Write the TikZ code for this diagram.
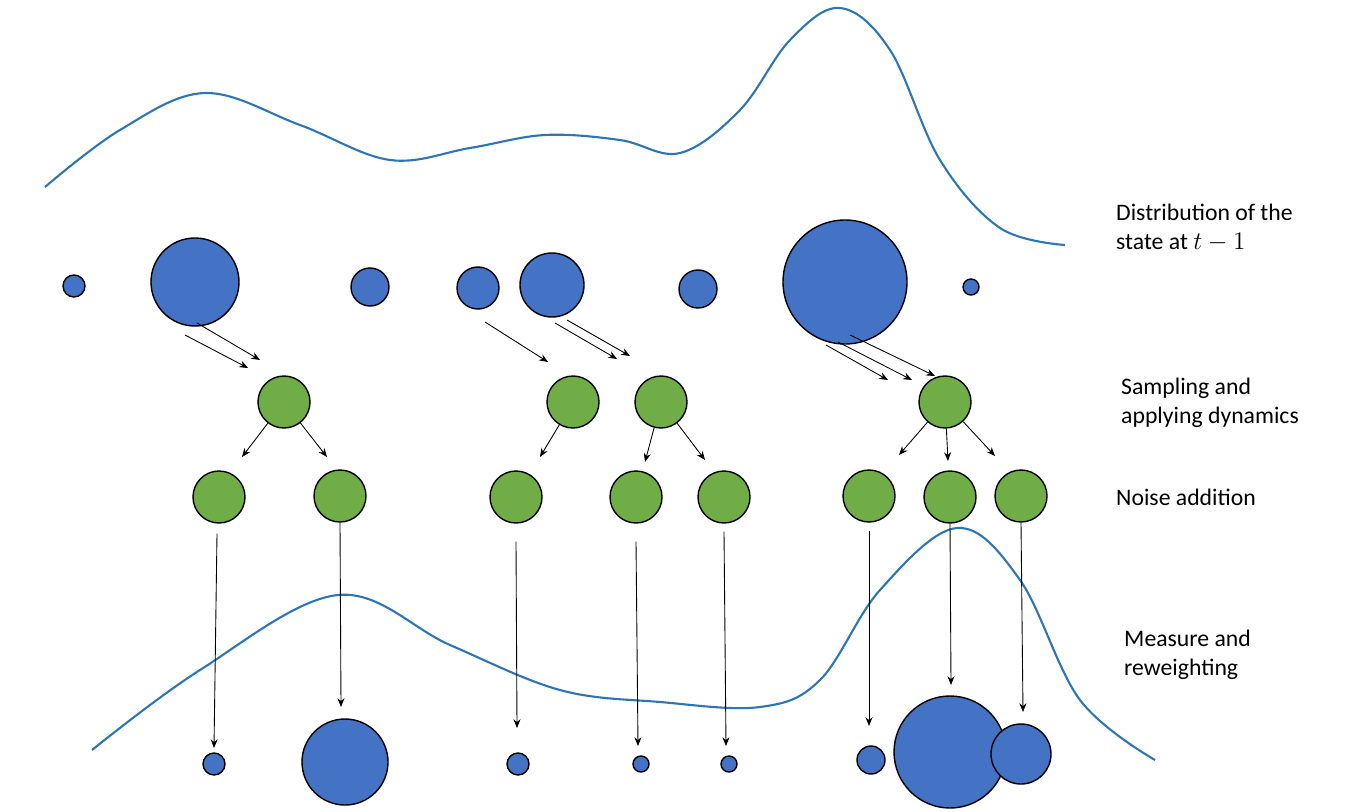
\documentclass[tikz,border=0pt]{standalone}
\usepackage{fontspec}
\setmainfont{Carlito}
\usetikzlibrary{arrows.meta}
\definecolor{pblue}{HTML}{4472C4}
\definecolor{pgreen}{HTML}{70AD47}
\definecolor{cblue}{HTML}{2E75B6}
\begin{document}
\begin{tikzpicture}[x=0.02cm,y=-0.02cm,
  bc/.style={circle,draw=black,fill=pblue,line width=0.8pt,inner sep=0pt},
  gc/.style={circle,draw=black,fill=pgreen,line width=0.8pt,inner sep=0pt,minimum size=52*0.02cm},
  ar/.style={-{Stealth[length=5pt,width=4pt]},line width=0.5pt},
  crv/.style={cblue,line width=1.2pt},
  lab/.style={anchor=west,align=left,font=\fontsize{13.5}{16.5}\selectfont}]
\useasboundingbox (0,0) rectangle (1358,811);
% curves
\draw[crv] plot[smooth,tension=0.6] coordinates {(45,187) (120,130) (205,93) (300,125) (390,160) (470,148) (545,135) (620,140) (680,153) (740,110) (790,40) (840,8) (890,50) (940,160) (1000,228) (1065,245)};
\draw[crv] plot[smooth,tension=0.6] coordinates {(92,750) (200,670) (338,595) (450,645) (560,690) (660,702) (760,707) (820,680) (880,590) (957,528) (1020,580) (1080,700) (1155,760)};
% top circles
\node[bc,minimum size=22*0.02cm] (t1) at (74,286) {};
\node[bc,minimum size=88*0.02cm] (t2) at (195,282) {};
\node[bc,minimum size=38*0.02cm] (t3) at (370,287) {};
\node[bc,minimum size=42*0.02cm] (t4) at (478,288) {};
\node[bc,minimum size=64*0.02cm] (t5) at (552,285) {};
\node[bc,minimum size=38*0.02cm] (t6) at (698,289) {};
\node[bc,minimum size=124*0.02cm] (t7) at (845,282) {};
\node[bc,minimum size=16*0.02cm] (t8) at (971,287) {};
% green sampled
\node[gc] (s1) at (284,402) {};
\node[gc] (s2) at (573,402) {};
\node[gc] (s3) at (661,402) {};
\node[gc] (s4) at (945,402) {};
% noise
\node[gc] (n1) at (219,497) {};
\node[gc] (n2) at (340,496) {};
\node[gc] (n3) at (516,497) {};
\node[gc] (n4) at (636,497) {};
\node[gc] (n5) at (724,497) {};
\node[gc] (n6) at (869,496) {};
\node[gc] (n7) at (950,497) {};
\node[gc] (n8) at (1021,496) {};
% bottom
\node[bc,minimum size=22*0.02cm] (b1) at (214,764) {};
\node[bc,minimum size=86*0.02cm] (b2) at (345,762) {};
\node[bc,minimum size=22*0.02cm] (b3) at (518,764) {};
\node[bc,minimum size=16*0.02cm] (b4) at (641,764) {};
\node[bc,minimum size=16*0.02cm] (b5) at (729,764) {};
\node[bc,minimum size=28*0.02cm] (b6) at (871,760) {};
\node[bc,minimum size=112*0.02cm] (b7) at (950,752) {};
\node[bc,minimum size=60*0.02cm] (b8) at (1021,754) {};
% arrows top -> sampled
\coordinate (a1) at (185,335); \coordinate (a1e) at (248,368);
\coordinate (a2) at (197,323); \coordinate (a2e) at (260,360);
\draw[ar] (a1) -- (a1e); \draw[ar] (a2) -- (a2e);
\coordinate (a3) at (485,322); \coordinate (a3e) at (548,362);
\draw[ar] (a3) -- (a3e);
\coordinate (a4) at (555,323); \coordinate (a4e) at (617,359);
\coordinate (a5) at (567,320); \coordinate (a5e) at (630,356);
\draw[ar] (a4) -- (a4e); \draw[ar] (a5) -- (a5e);
\coordinate (a6) at (826,345); \coordinate (a6e) at (888,380);
\coordinate (a7) at (838,342); \coordinate (a7e) at (912,380);
\coordinate (a8) at (850,335); \coordinate (a8e) at (935,376);
\draw[ar] (a6) -- (a6e); \draw[ar] (a7) -- (a7e); \draw[ar] (a8) -- (a8e);
% sampled -> noise
\coordinate (m1) at (242,457); \coordinate (m2) at (327,457);
\coordinate (m3) at (540,457); \coordinate (m4) at (645,462);
\coordinate (m5) at (705,460); \coordinate (m6) at (899,455);
\coordinate (m7) at (948,461); \coordinate (m8) at (995,456);
\draw[ar] (s1) -- (m1); \draw[ar] (s1) -- (m2);
\draw[ar] (s2) -- (m3);
\draw[ar] (s3) -- (m4); \draw[ar] (s3) -- (m5);
\draw[ar] (s4) -- (m6); \draw[ar] (s4) -- (m7); \draw[ar] (s4) -- (m8);
% noise -> bottom
\coordinate (e1) at (214,748); \coordinate (e2) at (341,707);
\coordinate (e3) at (517,728); \coordinate (e4) at (638,746);
\coordinate (e5) at (726,746); \coordinate (e6) at (869,726);
\coordinate (e7) at (951,685); \coordinate (e8) at (1023,712);
\draw[ar] (n1.south) ++(-2,10) -- (e1);
\draw[ar] (n2.south) -- (e2);
\draw[ar] (n3.south) ++(0,18) -- (e3);
\draw[ar] (n4.south) ++(0,18) -- (e4);
\draw[ar] (n5.south) ++(0,8) -- (e5);
\draw[ar] (n6.south) ++(0,8) -- (e6);
\draw[ar] (n7.south) -- (e7);
\draw[ar] (n8.south) -- (e8);
% labels
\node[lab] (l1) at (1110,228) {Distribution of the\\state at $t-1$};
\node[lab] (l2) at (1115,403) {Sampling and\\applying dynamics};
\node[lab] (l3) at (1110,497) {Noise addition};
\node[lab] (l4) at (1118,655) {Measure and\\reweighting};
\end{tikzpicture}
\end{document}
